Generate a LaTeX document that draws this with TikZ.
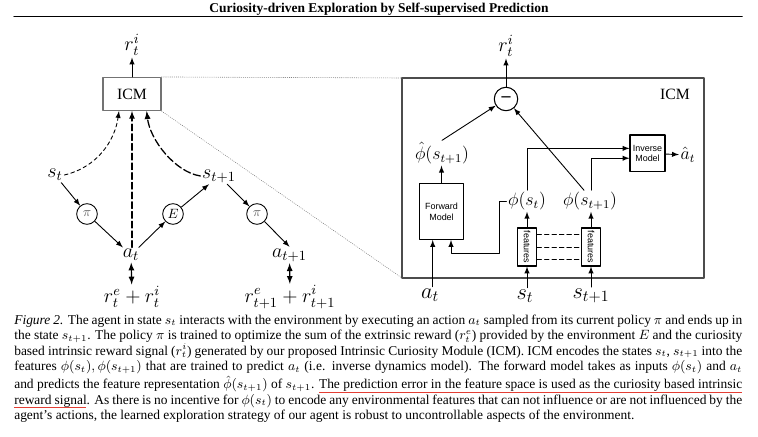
\IfFileExists{fix-cm.sty}{\RequirePackage{fix-cm}}{}
\documentclass[tikz,border=0pt]{standalone}
\usepackage[no-math]{fontspec}
\setmainfont{Liberation Serif}
\newfontfamily\sansfont{Liberation Sans}
\usepackage{graphicx}
\usepackage{xcolor}
\usetikzlibrary{arrows, calc, positioning}
\definecolor{markred}{RGB}{228,62,52}

\begin{document}
\begin{tikzpicture}[line cap=round, line join=round, >=latex, x=0.669pt, y=-0.669pt,
  every node/.style={inner sep=1pt},
  lbl/.style={font=\fontsize{13.4}{16}\selectfont},
  phil/.style={font=\fontsize{12}{14}\selectfont},
  inlbl/.style={font=\fontsize{15}{18}\selectfont},
  pol/.style={circle, draw, line width=0.6pt, minimum size=13.8pt, inner sep=0pt, font=\fontsize{9}{10}\selectfont},
  mdl/.style={draw, line width=0.7pt, align=center, inner sep=0pt, font=\sansfont\fontsize{6}{7.1}\selectfont},
  icmbox/.style={draw=black!55, line width=0.7pt, minimum width=38.8pt, minimum height=22.1pt, font=\fontsize{10.5}{12}\selectfont},
  diffcirc/.style={circle, draw, line width=0.7pt, minimum size=15.7pt, inner sep=0pt, font=\bfseries\fontsize{12}{12}\selectfont},
  arr/.style={->, line width=0.6pt},
  zoomline/.style={black!50, line width=0.4pt, dash pattern=on 0.4pt off 1pt},
  redmark/.style={markred, line width=1pt, line cap=butt}]
\useasboundingbox (0,0) rectangle (758,437);

% title and rule
\node[anchor=base, font=\bfseries\fontsize{9}{10}\selectfont] (title) at (379,12.5) {Curiosity-driven Exploration by Self-supervised Prediction};
\coordinate (ruleL) at (14,16.5);
\coordinate (ruleR) at (742,16.5);
\draw[line width=1pt] (ruleL) -- (ruleR);

% left: agent and environment
\node[icmbox] (icmL) at (132,94) {ICM};
\node[lbl] (rL) at (132,45) {$r^i_t$};
\node[lbl] (st) at (55,175) {$s_t$};
\node[lbl] (st1) at (219,176) {$s_{t+1}$};
\node[pol] (pi1) at (87,214) {\textcolor{black!60}{$\pi$}};
\node[pol] (E) at (173,214) {$E$};
\node[pol] (pi2) at (257,214) {\textcolor{black!60}{$\pi$}};
\node[lbl] (at) at (131,255) {$a_t$};
\node[lbl] (at1) at (289.5,255) {$a_{t+1}$};
\node[lbl] (rew1) at (132,297) {$r^e_t + r^i_t$};
\node[lbl] (rew2) at (290,297) {$r^e_{t+1} + r^i_{t+1}$};

\draw[arr] (icmL) -- (rL);
\draw[arr] (st) -- (pi1);
\draw[arr] (pi1) -- (at);
\draw[arr] (at) -- (E);
\draw[arr] (E) -- (st1);
\draw[arr] (st1) -- (pi2);
\draw[arr] (pi2) -- (at1.north);
\draw[<->, line width=0.8pt] (at) -- (rew1);
\draw[<->, line width=0.8pt] (at1) -- (rew2);

% inputs of the ICM
\draw[->, line width=0.6pt, dash pattern=on 2.5pt off 2pt] (st.east) .. controls (98,167) and (115,140) .. ([xshift=-8.7pt]icmL.south);
\draw[->, line width=0.75pt, dash pattern=on 4.5pt off 2pt] (icmL.south |- at.north) -- (icmL.south);
\draw[->, line width=0.85pt, dash pattern=on 5pt off 2pt] (st1.west) .. controls (175,172) and (150,140) .. ([xshift=9.8pt]icmL.south);

% right: inside the ICM
\coordinate (bigNW) at (402,78);
\coordinate (bigSE) at (704,278);
\draw[line width=0.9pt, black!70] (bigNW) rectangle (bigSE);
\draw[zoomline] (icmL.north east) -- (bigNW);
\draw[zoomline] (icmL.south east) -- (bigNW |- bigSE);
\node[font=\fontsize{10.5}{12}\selectfont] (icmR) at (675,94) {ICM};

\node[diffcirc] (diff) at (506,99) {--};
\node[lbl] (rR) at (506,46) {$r^i_t$};
\node[phil] (phihat) at (442,153) {$\hat{\phi}(s_{t+1})$};
\node[mdl, minimum width=29.9pt, minimum height=37.9pt] (fwd) at (441.5,211.6) {Forward\\Model};
\node[mdl, minimum width=23.4pt, minimum height=24.5pt] (inv) at (647.5,153.3) {Inverse\\Model};
\node[phil] (ahat) at (688,155) {$\hat{a}_t$};
\node[phil] (phis) at (527,201) {$\phi(s_t)$};
\node[phil] (phis1) at (590,201) {$\phi(s_{t+1})$};
\node[mdl, minimum width=12.7pt, minimum height=25.4pt] (feat1) at (527,247) {\rotatebox{-90}{features}};
\node[mdl, minimum width=12.7pt, minimum height=25.4pt] (feat2) at (591,247) {\rotatebox{-90}{features}};
\node[inlbl] (atR) at (430,295) {$a_t$};
\node[inlbl] (stR) at (525,296) {$s_t$};
\node[inlbl] (st1R) at (591,296) {$s_{t+1}$};

\coordinate (fwdA) at (432.7,240);
\coordinate (fwdB) at (451,240);

\draw[arr] (diff) -- (rR);
\draw[arr] (phihat.north) -- (diff);
\draw[arr] ([xshift=-4pt]phis1.north) -- (diff);
\draw[arr] (fwd.north) -- (fwd.north |- phihat.south);
\draw[arr] (fwdA |- atR.north) -- (fwdA);
\draw[arr] (phis.west) -- ++(-7,0) -- ++(0,52) -| (fwdB);
\draw[arr] (stR.north -| feat1.south) -- (feat1.south);
\draw[arr] (st1R.north -| feat2.south) -- (feat2.south);
\draw[arr] (feat1.north) -- (feat1.north |- phis.south);
\draw[arr] (feat2.north) -- (feat2.north |- phis1.south);
\foreach \dy in {8.5pt,0pt,-8.5pt}
  \draw[line width=0.6pt, dash pattern=on 3pt off 2pt] ([yshift=\dy]feat1.east) -- ([yshift=\dy]feat2.west);
\draw[arr] (phis.north) |- ([yshift=3.3pt]inv.west);
\draw[arr] (feat2.north |- phis1.north) |- ([yshift=-3.3pt]inv.west);
\draw[arr] (inv) -- (ahat);

% caption
\node[anchor=north west, text width=487pt, align=justify, inner sep=0pt, font=\fontsize{9}{10.4}\selectfont] (caption) at (14,313.1) {\lineskiplimit=-6pt\strut\textit{Figure 2.} The agent in state $s_t$ interacts with the environment by executing an action $a_t$ sampled from its current policy $\pi$ and ends up in\linebreak
the state $s_{t+1}$. The policy $\pi$ is trained to optimize the sum of the extrinsic reward ($r^e_t$) provided by the environment $E$ and the curiosity\linebreak
based intrinsic reward signal ($r^i_t$) generated by our proposed Intrinsic Curiosity Module (ICM). ICM encodes the states $s_t$, $s_{t+1}$ into the\linebreak
features $\phi(s_t), \phi(s_{t+1})$ that are trained to predict $a_t$ (i.e. inverse dynamics model). The forward model takes as inputs $\phi(s_t)$ and $a_t$\linebreak
and predicts the feature representation $\hat{\phi}(s_{t+1})$ of $s_{t+1}$. The prediction error in the feature space is used as the curiosity based intrinsic\linebreak
reward signal. As there is no incentive for $\phi(s_t)$ to encode any environmental features that can not influence or are not influenced by the\linebreak
agent's actions, the learned exploration strategy of our agent is robust to uncontrollable aspects of the environment.};

% red marks under the highlighted sentence
\coordinate (markA) at (319,392.5);
\coordinate (markB) at (742,392.5);
\coordinate (markC) at (14,407.5);
\coordinate (markD) at (86,407.5);
\draw[redmark] (markA) -- (markB);
\draw[redmark] (markC) -- (markD);
\end{tikzpicture}
\end{document}
